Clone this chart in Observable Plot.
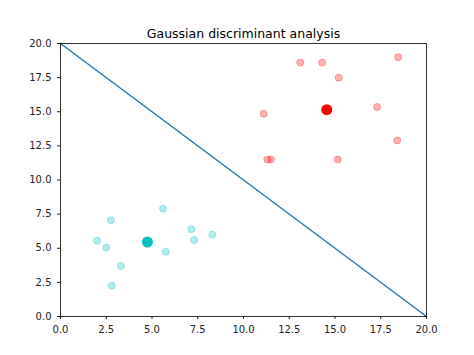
<!DOCTYPE html>
<html><head><meta charset="utf-8">
<script src="https://cdn.jsdelivr.net/npm/d3@7"></script>
<script src="https://cdn.jsdelivr.net/npm/@observablehq/plot@0.6"></script>
<style>body{margin:0;background:#fff}</style>
</head><body><div id="chart"></div>
<script>
const title = "Gaussian discriminant analysis";
const redX = [13.1, 14.3, 18.45, 15.2, 11.1, 17.3, 18.4, 11.3, 11.5, 15.15];
const redY = [18.6, 18.6, 19.0, 17.5, 14.85, 15.35, 12.9, 11.5, 11.5, 11.5];
const redMean = [14.55, 15.15];
const cyanX = [5.6, 2.75, 2.0, 2.5, 7.15, 7.3, 8.3, 5.75, 3.3, 2.8];
const cyanY = [7.9, 7.05, 5.55, 5.05, 6.4, 5.6, 6.0, 4.75, 3.7, 2.25];
const cyanMean = [4.75, 5.45];
const boundaryX = [0, 20];
const boundaryY = [20, 0];
const ticks = [0, 2.5, 5, 7.5, 10, 12.5, 15, 17.5, 20];

const red = redX.map((x, i) => ({x, y: redY[i]}));
const cyan = cyanX.map((x, i) => ({x, y: cyanY[i]}));
const line = boundaryX.map((x, i) => ({x, y: boundaryY[i]}));

const chart = Plot.plot({
  width: 474, height: 355,
  marginLeft: 60, marginRight: 48, marginTop: 43, marginBottom: 39,
  style: {fontFamily: "DejaVu Sans", fontSize: "10px", color: "#222", background: "white"},
  x: {domain: [0, 20], ticks, tickFormat: d3.format(".1f"), tickSize: 3, label: null},
  y: {domain: [0, 20], ticks, tickFormat: d3.format(".1f"), tickSize: 3, label: null},
  marks: [
    Plot.line(line, {x: "x", y: "y", stroke: "#1f77b4", strokeWidth: 1.4}),
    Plot.dot(red, {x: "x", y: "y", r: 3.5, fill: "red", fillOpacity: 0.3, stroke: "red", strokeOpacity: 0.3, strokeWidth: 1}),
    Plot.dot(cyan, {x: "x", y: "y", r: 3.5, fill: "#00bfbf", fillOpacity: 0.3, stroke: "#00bfbf", strokeOpacity: 0.3, strokeWidth: 1}),
    Plot.dot([{x: redMean[0], y: redMean[1]}], {x: "x", y: "y", r: 5.5, fill: "red", stroke: "none"}),
    Plot.dot([{x: cyanMean[0], y: cyanMean[1]}], {x: "x", y: "y", r: 5.5, fill: "#00bfbf", stroke: "none"}),
    Plot.frame({stroke: "black", strokeWidth: 0.8}),
    Plot.text([title], {frameAnchor: "top", dy: -14, fontSize: 12.5, fill: "black"})
  ]
});
document.getElementById("chart").append(chart);
</script>
</body></html>
